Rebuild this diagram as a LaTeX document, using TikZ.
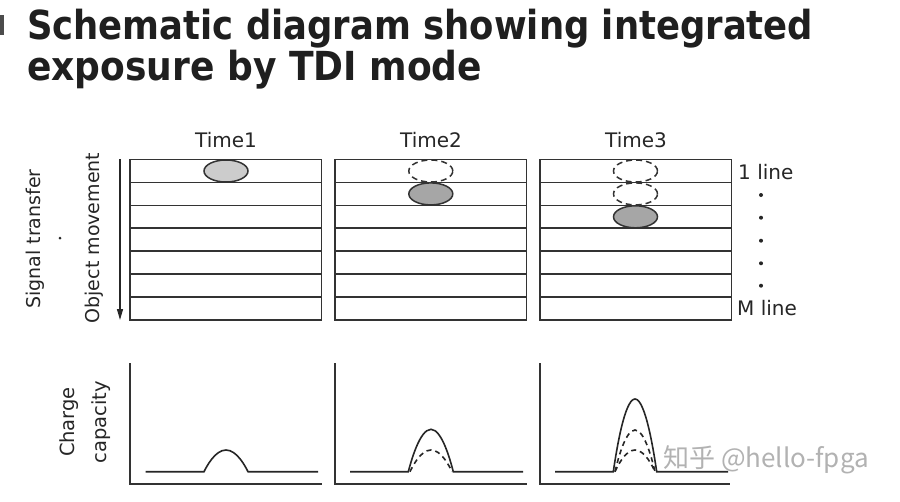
\documentclass[tikz,border=0pt]{standalone}
\usepackage{fontspec}
\usepackage{graphicx}
\setmainfont{DejaVu Sans}
\newfontfamily\cjk{Noto Sans CJK SC}
\usetikzlibrary{shapes.geometric,arrows.meta}
\begin{document}
\begin{tikzpicture}[x=1pt,y=-1pt,
  ln/.style={line width=1.6pt,draw=black!80},
  lbl/.style={font=\fontsize{20}{24}\selectfont,text=black!85,inner sep=0pt},
  ttl/.style={font=\bfseries\fontsize{40}{40}\selectfont,text=black!88,inner sep=0pt,anchor=base west},
  blob/.style={ellipse,draw=black!80,line width=1.5pt,minimum width=44pt,minimum height=22pt,inner sep=0pt},
  ghost/.style={blob,dash pattern=on 6pt off 4pt},
  curve/.style={line width=1.6pt,draw=black!85},
  dcurve/.style={curve,dash pattern=on 5pt off 4pt},
  dotm/.style={circle,fill=black!85,inner sep=0pt,minimum size=4pt}]
\useasboundingbox (0,0) rectangle (900,501);
\fill[white] (0,0) rectangle (900,501);
% top-left mark
\fill[black!70] (0,15) rectangle (4,35);
% title
\node[ttl] (t1) at (27,39) {\resizebox{786pt}{\height}{Schematic diagram showing integrated}};
\node[ttl] (t2) at (27,80) {\resizebox{455pt}{\height}{exposure by TDI mode}};
% time labels
\node[lbl] (time1) at (226,140) {Time1};
\node[lbl] (time2) at (431,140) {Time2};
\node[lbl] (time3) at (636,140) {Time3};
% grids
\foreach \x in {130,335,540}{
  \draw[ln] (\x,159.5) rectangle ++(191.5,160.5);
  \foreach \i in {1,...,6} \draw[ln] (\x,159.5+\i*22.93) -- ++(191.5,0);
}
% blobs
\node[blob,fill=black!20] (b1) at (226,171) {};
\node[ghost] (g21) at (430.8,171) {};
\node[blob,fill=black!35] (b2) at (430.8,193.9) {};
\node[ghost] (g31) at (635.5,171) {};
\node[ghost] (g32) at (635.5,193.9) {};
\node[blob,fill=black!35] (b3) at (635.5,216.8) {};
% arrow and side labels
\coordinate (atop) at (120,159);
\coordinate (abot) at (120,320);
\draw[line width=1.3pt,draw=black!85,-{Triangle[length=11pt,width=6pt]}] (atop) -- (abot);
\node[lbl,font=\fontsize{19}{23}\selectfont,rotate=90] (om) at (94,238) {Object movement};
\node[lbl,font=\fontsize{19}{23}\selectfont,rotate=90] (st) at (35,239) {Signal transfer};
\node[dotm,minimum size=3pt] (sd) at (60,238) {};
% right labels
\node[lbl,anchor=west] (l1) at (738,172) {1 line};
\node[lbl,anchor=west] (lm) at (737,308) {M line};
\foreach \yy [count=\k] in {195,217.7,240.7,263.3,285.7} \node[dotm] (d\k) at (761,\yy) {};
% charge capacity label
\node[lbl,rotate=90,align=center,font=\fontsize{19.5}{32}\selectfont] (cc) at (85,422) {Charge\\capacity};
% axes
\foreach \x/\w in {130/192,335/192,540/190}{
  \draw[ln] (\x,363) -- (\x,484) -- ++(\w,0);
}
% panel 1 curve
\draw[curve] (145.7,471.7) -- (204,471.7) parabola bend (226,450) (248,471.7) -- (318,471.7);
% panel 2
\draw[curve] (350,471.7) -- (408.3,471.7) parabola bend (431,429.3) (453.3,471.7) -- (523,471.7);
\draw[dcurve] (410,471.7) parabola bend (431,450) (452,471.7);
% panel 3
\draw[curve] (555,471.7) -- (613.3,471.7) parabola bend (635,399) (656.7,471.7) -- (728,471.7);
\draw[dcurve] (615,471.7) parabola bend (635,430) (655,471.7);
\draw[dcurve] (615,471.7) parabola bend (635,450) (655,471.7);
% watermark
\node[font=\cjk\fontsize{26}{26}\selectfont,text=black!30,anchor=west,inner sep=0pt] (wm) at (663,460) {知乎 @hello-fpga};
\end{tikzpicture}
\end{document}
